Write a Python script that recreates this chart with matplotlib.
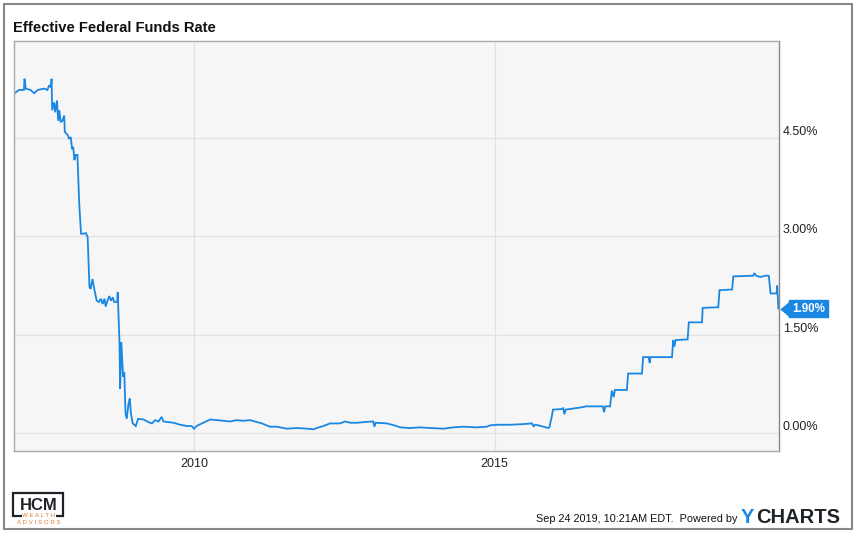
import matplotlib
matplotlib.use("Agg")
import matplotlib.pyplot as plt
from matplotlib.patches import Rectangle
from matplotlib.transforms import blended_transform_factory, offset_copy

plt.rcParams['font.family'] = ['Liberation Sans', 'DejaVu Sans']

# effective fed funds rate (decimal year, percent)
years = [2007.00, 2007.09, 2007.17, 2007.18, 2007.20, 2007.28, 2007.34, 2007.40, 2007.51, 2007.56,
         2007.59, 2007.62, 2007.63, 2007.64, 2007.67, 2007.69, 2007.72, 2007.74, 2007.76, 2007.78,
         2007.81, 2007.84, 2007.85, 2007.90, 2007.92, 2007.95, 2007.97, 2007.99, 2008.01, 2008.03,
         2008.06, 2008.09, 2008.12, 2008.17, 2008.20, 2008.23, 2008.26, 2008.28, 2008.31, 2008.34,
         2008.38, 2008.42, 2008.45, 2008.48, 2008.51, 2008.53, 2008.56, 2008.59, 2008.62, 2008.65,
         2008.67, 2008.72, 2008.73, 2008.76, 2008.77, 2008.79, 2008.82, 2008.84, 2008.86, 2008.88,
         2008.91, 2008.93, 2008.95, 2008.98, 2009.03,
         2009.07, 2009.16, 2009.24, 2009.30, 2009.35, 2009.41, 2009.46, 2009.49, 2009.57, 2009.66,
         2009.77, 2009.88, 2009.96, 2010.00, 2010.04, 2010.13, 2010.27, 2010.38, 2010.60, 2010.71,
         2010.82, 2010.93, 2011.01, 2011.13, 2011.26, 2011.38, 2011.54, 2011.71, 2011.88, 2011.99,
         2012.04, 2012.15, 2012.26, 2012.43, 2012.51, 2012.60, 2012.71, 2012.82, 2012.98, 2013.00,
         2013.02, 2013.21, 2013.37, 2013.43, 2013.59, 2013.76, 2013.93, 2014.15, 2014.31, 2014.48,
         2014.70, 2014.87, 2014.92, 2015.04, 2015.26, 2015.48, 2015.62, 2015.65, 2015.67, 2015.73,
         2015.81, 2015.89,
         2015.91, 2015.95, 2015.97, 2016.12, 2016.14, 2016.16, 2016.18, 2016.48, 2016.51, 2016.80,
         2016.82, 2016.84, 2016.92, 2016.95, 2016.98, 2017.00, 2017.20, 2017.22, 2017.45, 2017.47,
         2017.56, 2017.58, 2017.59, 2017.95, 2017.97, 2017.99, 2018.01, 2018.21, 2018.23, 2018.45,
         2018.46, 2018.72, 2018.74, 2018.95, 2018.97, 2019.30, 2019.32, 2019.35, 2019.42, 2019.50,
         2019.56, 2019.59, 2019.69, 2019.70, 2019.72]
rates = [5.17, 5.23, 5.23, 5.40, 5.25, 5.23, 5.18, 5.23, 5.25, 5.23,
         5.30, 5.27, 5.40, 4.92, 5.04, 4.89, 5.07, 4.76, 4.92, 4.74,
         4.76, 4.84, 4.59, 4.54, 4.49, 4.51, 4.33, 4.36, 4.16, 4.24,
         4.24, 3.50, 3.04, 3.04, 3.05, 2.99, 2.23, 2.20, 2.35, 2.20,
         2.02, 2.00, 2.05, 1.97, 2.05, 1.93, 2.02, 2.09, 2.02, 2.07,
         2.00, 2.00, 2.15, 1.37, 0.68, 1.39, 0.86, 0.93, 0.30, 0.22,
         0.45, 0.53, 0.30, 0.15, 0.11,
         0.22, 0.21, 0.17, 0.15, 0.20, 0.18, 0.25, 0.18, 0.17, 0.16,
         0.13, 0.11, 0.11, 0.07, 0.11, 0.15, 0.21, 0.20, 0.18, 0.20,
         0.19, 0.20, 0.18, 0.15, 0.10, 0.10, 0.07, 0.08, 0.07, 0.06,
         0.08, 0.11, 0.15, 0.15, 0.18, 0.16, 0.16, 0.17, 0.18, 0.10,
         0.16, 0.15, 0.11, 0.09, 0.08, 0.09, 0.08, 0.07, 0.09, 0.10,
         0.09, 0.10, 0.12, 0.13, 0.13, 0.14, 0.15, 0.10, 0.13, 0.12,
         0.10, 0.08,
         0.09, 0.25, 0.36, 0.37, 0.38, 0.29, 0.36, 0.40, 0.41, 0.41,
         0.32, 0.41, 0.41, 0.65, 0.55, 0.66, 0.66, 0.91, 0.91, 1.16,
         1.16, 1.07, 1.16, 1.16, 1.42, 1.32, 1.42, 1.43, 1.69, 1.69,
         1.91, 1.92, 2.18, 2.19, 2.39, 2.40, 2.44, 2.40, 2.38, 2.40,
         2.40, 2.13, 2.13, 2.25, 1.90]

x_ticks = [2010, 2015]
x_labels = ["2010", "2015"]
y_ticks = [0.0, 1.5, 3.0, 4.5]
y_labels = ["0.00%", "1.50%", "3.00%", "4.50%"]
last_label = "1.90%"

blue = "#1a88e3"
W, H = 856, 535

fig = plt.figure(figsize=(W / 100, H / 100), dpi=100)
ax = fig.add_axes([13.7 / W, 1 - 451 / H, (779 - 13.7) / W, (451 - 40.7) / H])
ax.set_facecolor("#f6f6f6")

ax.plot(years, rates, color=blue, lw=1.3, solid_joinstyle="miter")
ax.set_xlim(2007.0, 2019.73)
ax.set_ylim(-0.27, 5.98)

ax.set_xticks(x_ticks)
ax.set_xticklabels(x_labels, fontsize=9, color="#222")
ax.set_yticks(y_ticks)
ax.set_yticklabels([])
ax.tick_params(length=0, pad=5)
ax.grid(True, color="#e2e2e2", lw=1)
ax.set_axisbelow(True)
for s in ax.spines.values():
    s.set_color("#aaaaaa")
    s.set_linewidth(1)
ax.spines["right"].set_color("#888888")

# y labels sit a bit above their gridline, on the right
for v, lab in zip(y_ticks, y_labels):
    ax.annotate(lab, xy=(1, v), xycoords=("axes fraction", "data"),
                xytext=(4, 6), textcoords="offset pixels",
                ha="left", va="center", fontsize=9, color="#222")

# last value marker: arrow point + box
bt = blended_transform_factory(ax.transAxes, ax.transData)
ax.plot([1], [rates[-1]], marker=[(-0.6, 0), (0.6, -1), (0.6, 1)], ms=12.5, color=blue, mec=blue,
        mew=0, transform=offset_copy(bt, fig=fig, x=6.5, y=0, units="dots"), clip_on=False)
ax.annotate(last_label, xy=(1, rates[-1]), xycoords=("axes fraction", "data"),
            xytext=(13, 0), textcoords="offset pixels", ha="left", va="center",
            fontsize=8.4, fontweight="bold", color="white",
            bbox=dict(boxstyle="square,pad=0.25", fc=blue, ec=blue))

fig.text(13.3 / W, 1 - 31.7 / H, "Effective Federal Funds Rate", fontsize=10.6,
         fontweight="bold", color="#111", va="baseline")

# outer frame
fig.patches.append(Rectangle((4 / W, 1 - 529 / H), 848 / W, 525 / H, transform=fig.transFigure,
                             fill=False, ec="#888888", lw=1.5))

# HCM logo
fig.patches.append(Rectangle((13.5 / W, 1 - 516 / H), 49.5 / W, 23.5 / H, transform=fig.transFigure,
                             fill=False, ec="#1d2328", lw=1.6))
fig.text(38.5 / W, 1 - 510 / H, "HCM", fontsize=12, fontweight="bold", color="#1d2328",
         ha="center", va="baseline")
fig.text(39 / W, 1 - 515.5 / H, "W E A L T H", fontsize=4.4, color="#e07a2e",
         ha="center", va="center", bbox=dict(boxstyle="square,pad=0.15", fc="white", ec="none"))
fig.text(38.5 / W, 1 - 522.5 / H, "A D V I S O R S", fontsize=4.4, color="#e07a2e",
         ha="center", va="center")

# footer
fig.text(737 / W, 1 - 518.5 / H, "Sep 24 2019, 10:21AM EDT.  Powered by", fontsize=7.8,
         color="#111", ha="right", va="center")
fig.text(740.5 / W, 1 - 523 / H, "Y", fontsize=14.5, fontweight="bold", color="#1a88e3",
         ha="left", va="baseline")
fig.text(756.5 / W, 1 - 523 / H, "CHARTS", fontsize=14.5, fontweight="bold", color="#1d2328",
         ha="left", va="baseline")

fig.savefig("out.png", dpi=100)
